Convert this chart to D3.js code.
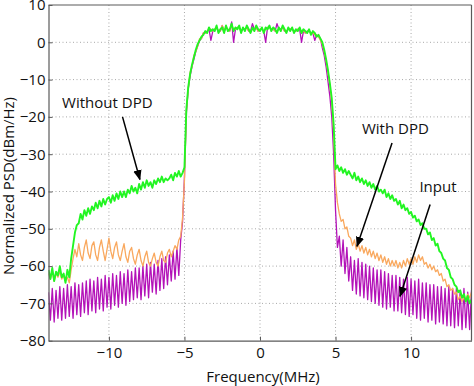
<!DOCTYPE html>
<html>
<head>
<meta charset="utf-8">
<script src="https://cdn.jsdelivr.net/npm/d3@7"></script>
<style>
  html, body { margin: 0; padding: 0; background: #fff; }
  #app { width: 474px; height: 386px; }
  text { font-family: "Open Sans", "DejaVu Sans", sans-serif; }
</style>
</head>
<body>
<div id="app"></div>
<script>
// spectra sampled every 0.125 MHz from -14 to 14 MHz (one row = 1 MHz)
const freqStart = -14;
const freqStep = 0.125;

const withoutDpd = [
  -61, -63.5, -60.5, -64, -61.5, -62.5, -60, -63,
  -62, -64.5, -61, -63, -58, -54.5, -51, -49,
  -48.5, -46, -47.5, -45, -46.5, -44.5, -46, -44,
  -45, -43, -44.5, -42.5, -44, -42, -43.5, -42,
  -41.5, -43, -41, -42.5, -40.5, -42, -40, -41.5,
  -40, -41.5, -39.5, -40.5, -38.5, -40, -39, -40.5,
  -38, -39.5, -37.5, -39, -37, -38.5, -37.5, -39,
  -37, -38, -36.5, -37.5, -36, -37.5, -36.5, -37,
  -36.5, -35.5, -37, -35, -36, -34.5, -36, -35,
  -33.5, -18, -12, -8.5, -6, -4, -2, -0.5,
  0.5, 1.5, 2, 3, 2.5, 4, 3, 3.5,
  3, 4.5, 2.5, 3.5, 4, 2.5, 4.5, 3,
  3.5, 5, 3, 4, 3.5, 4.5, 2.5, 4,
  3, 4.5, 3.5, 2.5, 4, 3, 4.5, 3.5,
  3, 4, 2.5, 4, 3.5, 4.5, 3, 4,
  3.5, 2.5, 4, 3, 4.5, 3.5, 2.5, 4,
  3, 4, 2.5, 3.5, 3, 4, 2.5, 3.5,
  3, 2.5, 3.5, 2, 3, 2.5, 1.5, 2,
  1, 0, -2, -4.5, -7.5, -11, -15, -22,
  -34, -33, -34.5, -33.5, -35, -34, -35.5, -34.5,
  -35.5, -36.5, -35, -37, -36, -37.5, -36.5, -38,
  -37, -38.5, -37.5, -39, -38, -39.5, -38.5, -40,
  -39.5, -40.5, -39.5, -41.5, -40.5, -42, -41, -42.5,
  -42, -43.5, -42.5, -44.5, -43.5, -45, -44.5, -46,
  -45.5, -47, -46.5, -48, -47.5, -49, -48.5, -50,
  -50, -51.5, -51, -53, -52.5, -54.5, -54, -56,
  -56.5, -58, -58.5, -60.5, -61, -63, -63.5, -65,
  -65.5, -67, -66.5, -68.5, -67.5, -69.5, -68, -70,
  -69
];

const withDpd = [
  -62, -63.5, -61.5, -64, -62, -63, -61.5, -63.5,
  -62.5, -64, -63, -64.5, -61, -58, -55.5, -57.5,
  -54, -57, -58.5, -55, -53, -56.5, -58, -54.5,
  -53.5, -57, -58.5, -55, -53, -56, -58.5, -55.5,
  -52.5, -56, -58, -55, -53.5, -57, -58.5, -56,
  -54, -57.5, -59, -56, -55, -58, -59.5, -57,
  -55.5, -58.5, -60, -57.5, -56, -59, -60, -58,
  -56.5, -59, -60, -57.5, -56, -58.5, -59, -56.5,
  -55.5, -57.5, -56, -54.5, -55.5, -53, -52, -47,
  -37, -18.5, -12.5, -8, -6.5, -3.5, -2.5, -1,
  1, 1, 2.5, 2.5, 3, 3.5, 3.5, 3,
  3.5, 4, 3, 3, 4.5, 3, 4, 3.5,
  3, 4.5, 3.5, 3.5, 4, 4, 3, 3.5,
  3.5, 4, 3, 3, 3.5, 3.5, 4, 3,
  3.5, 3.5, 3, 3.5, 4, 4, 3.5, 3.5,
  3, 3, 3.5, 3.5, 4, 3, 3, 3.5,
  3.5, 3.5, 3, 3, 3.5, 3.5, 3, 3,
  2.5, 3, 3, 2.5, 2.5, 2, 2, 1.5,
  0.5, -0.5, -2.5, -5, -8, -11.5, -16, -24,
  -38, -43, -46, -48, -47.5, -50, -49.5, -52,
  -52.5, -54.5, -53, -55.5, -54, -56, -54.5, -56.5,
  -55, -57, -55.5, -57.5, -56, -58, -56.5, -58.5,
  -57, -59, -57.5, -59.5, -58, -60, -58.5, -60,
  -58.5, -60.5, -59, -60.5, -58.5, -60, -58, -59.5,
  -58, -59.5, -57.5, -59, -57, -58.5, -57.5, -59.5,
  -59, -60.5, -59.5, -61, -60, -61.5, -61, -62.5,
  -62, -64, -63.5, -65.5, -65, -66.5, -66, -67.5,
  -67, -69, -68, -69.5, -68.5, -69, -67.5, -68.5,
  -67
];

const inputPsd = [
  -67, -74.5, -66, -75, -66.5, -74, -65.5, -74.5,
  -66, -74, -65, -73.5, -65.5, -74, -64.5, -73,
  -65, -73.5, -64.5, -72.5, -64, -73, -63.5, -72,
  -64, -72.5, -63, -71.5, -63.5, -72, -62.5, -71,
  -63, -71.5, -62, -70.5, -62.5, -71, -61.5, -70,
  -62, -70.5, -61, -69.5, -61.5, -69, -60.5, -68.5,
  -60.5, -69, -60, -68, -59.5, -68.5, -59, -67,
  -59.5, -67.5, -58.5, -66.5, -58, -66, -57.5, -65,
  -57, -64, -56, -63.5, -55, -62.5, -53, -48,
  -36, -19, -12.5, -9, -6.5, -4.5, -2.5, -1,
  0.5, 1, 2.5, 2.5, 3, 3.5, 0.5, 3,
  3.5, 4, 3, 3, 4.5, 3, 4, 3.5,
  3, 5.5, 0, 3.5, 4, 4, 3, 3.5,
  3.5, 4, 3, 3, 5, 3.5, 4, 3,
  3.5, 3.5, 3, 0, 4, 4, 3.5, 3.5,
  3, 5, 3.5, 3.5, 4, 3, 3, 3.5,
  3.5, 3.5, 3, 3, 3.5, 3.5, 0, 3,
  2.5, 3, 3, 2.5, 2.5, 0.5, 2, 1.5,
  1, -1.5, -3.5, -6.5, -10.5, -14.5, -20, -30,
  -45, -55, -52, -60, -53, -62, -55, -64,
  -57.5, -66.5, -58.5, -67.5, -58, -68, -59, -68.5,
  -59.5, -69, -60, -69.5, -60.5, -70, -61, -70.5,
  -61, -71, -61.5, -71.5, -62, -71, -62.5, -72,
  -62.5, -72, -63, -72.5, -63.5, -73, -63, -73.5,
  -63.5, -73, -64, -74, -63.5, -74.5, -64.5, -74,
  -64.5, -75, -65, -74.5, -65, -75.5, -65.5, -75,
  -65.5, -75.5, -66, -76, -65.5, -76, -66, -76.5,
  -66, -76, -66.5, -77, -66, -76.5, -67, -77,
  -66.5
];

const xTicks = [-10, -5, 0, 5, 10];
const yTicks = [-80, -70, -60, -50, -40, -30, -20, -10, 0, 10];

// annotations: label position and arrow, in MHz / dB
const notes = [
  { label: "Without DPD", tx: -13.1, ty: -17.5, from: [-9.1, -20], to: [-7.95, -36.8] },
  { label: "With DPD", tx: 6.75, ty: -24.6, from: [8.74, -27], to: [6.42, -54.7] },
  { label: "Input", tx: 10.55, ty: -40.2, from: [11.26, -43.5], to: [9.27, -68.1] }
];

const margin = { top: 5, right: 2.5, bottom: 45.3, left: 48.5 };
const width = 474 - margin.left - margin.right;
const height = 386 - margin.top - margin.bottom;

const svg = d3.select("#app")
  .append("svg")
  .attr("width", 474)
  .attr("height", 386);

const g = svg.append("g")
  .attr("transform", `translate(${margin.left},${margin.top})`);

const x = d3.scaleLinear().domain([-14, 14]).range([0, width]);
const y = d3.scaleLinear().domain([-80, 10]).range([height, 0]);

// dotted grid
g.append("g")
  .selectAll("line")
  .data(xTicks)
  .join("line")
  .attr("x1", d => x(d)).attr("x2", d => x(d))
  .attr("y1", 0).attr("y2", height)
  .attr("stroke", "#a8a8a8")
  .attr("stroke-width", 1)
  .attr("stroke-dasharray", "1,2.5");

g.append("g")
  .selectAll("line")
  .data(yTicks.filter(d => d > -80 && d < 10))
  .join("line")
  .attr("x1", 0).attr("x2", width)
  .attr("y1", d => y(d)).attr("y2", d => y(d))
  .attr("stroke", "#a8a8a8")
  .attr("stroke-width", 1)
  .attr("stroke-dasharray", "1,2.5");

// spectra
const toPoints = arr => arr.map((v, i) => [freqStart + i * freqStep, v]);
const line = d3.line()
  .x(d => x(d[0]))
  .y(d => y(d[1]));

const series = [
  { name: "Input", values: inputPsd, color: "#b312b8", w: 1.3 },
  { name: "With DPD", values: withDpd, color: "#f9a85e", w: 1.3 },
  { name: "Without DPD", values: withoutDpd, color: "#22f522", w: 1.9 }
];

g.append("defs").append("clipPath").attr("id", "plotclip")
  .append("rect").attr("width", width).attr("height", height);

for (const s of series) {
  g.append("path")
    .datum(toPoints(s.values))
    .attr("clip-path", "url(#plotclip)")
    .attr("fill", "none")
    .attr("stroke", s.color)
    .attr("stroke-width", s.w)
    .attr("stroke-linejoin", "round")
    .attr("d", line);
}

// axes with inward ticks
const styleAxis = sel => {
  sel.select(".domain").attr("stroke", "#5a5a5a").attr("stroke-width", 1.2);
  sel.selectAll(".tick line").attr("stroke", "#5a5a5a");
  sel.selectAll("text")
    .attr("fill", "#111")
    .style("font-family", "'Open Sans', sans-serif")
    .style("font-size", "15px");
};

g.append("g")
  .attr("transform", `translate(0,${height})`)
  .call(d3.axisBottom(x).tickValues(xTicks).tickSizeInner(-4).tickSizeOuter(0).tickPadding(7))
  .call(styleAxis);

g.append("g")
  .call(d3.axisLeft(y).tickValues(yTicks).tickSizeInner(-4).tickSizeOuter(0).tickPadding(3))
  .call(styleAxis);

// top and right frame
g.append("line")
  .attr("x1", 0).attr("x2", width).attr("y1", 0).attr("y2", 0)
  .attr("stroke", "#5a5a5a").attr("stroke-width", 1.2);
g.append("line")
  .attr("x1", width).attr("x2", width).attr("y1", 0).attr("y2", height)
  .attr("stroke", "#5a5a5a").attr("stroke-width", 1.2);

// axis titles
svg.append("text")
  .attr("x", 263)
  .attr("y", 382)
  .attr("text-anchor", "middle")
  .attr("fill", "#111")
  .style("font-size", "15px")
  .text("Frequency(MHz)");

svg.append("text")
  .attr("transform", "translate(14,186) rotate(-90)")
  .attr("text-anchor", "middle")
  .attr("fill", "#111")
  .style("font-size", "15px")
  .text("Normalized PSD(dBm/Hz)");

// annotations
svg.append("defs").append("marker")
  .attr("id", "arrow")
  .attr("viewBox", "0 0 10 10")
  .attr("refX", 9).attr("refY", 5)
  .attr("markerWidth", 7).attr("markerHeight", 7)
  .attr("orient", "auto")
  .append("path")
  .attr("d", "M0,1 L10,5 L0,9 Z")
  .attr("fill", "#000");

for (const n of notes) {
  g.append("text")
    .attr("x", x(n.tx))
    .attr("y", y(n.ty))
    .attr("fill", "#111")
    .style("font-size", "15px")
    .text(n.label);

  g.append("line")
    .attr("x1", x(n.from[0])).attr("y1", y(n.from[1]))
    .attr("x2", x(n.to[0])).attr("y2", y(n.to[1]))
    .attr("stroke", "#000")
    .attr("stroke-width", 1.5)
    .attr("marker-end", "url(#arrow)");
}
</script>
</body>
</html>
